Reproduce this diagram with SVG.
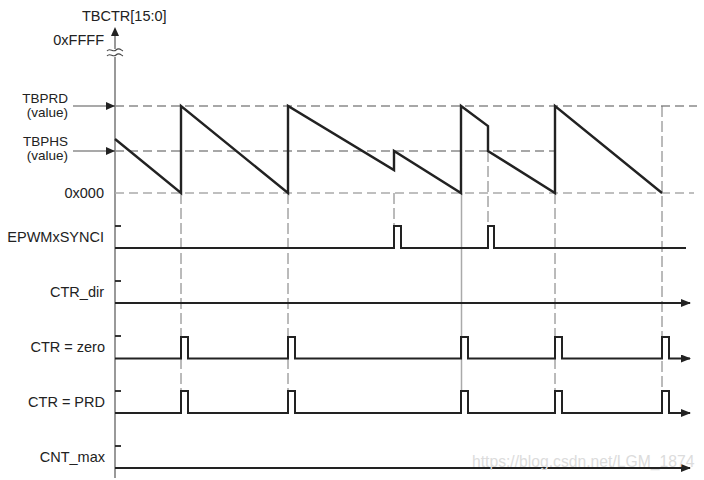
<svg xmlns="http://www.w3.org/2000/svg" width="704" height="480" viewBox="0 0 704 480">
<defs>
<marker id="arr" markerWidth="10" markerHeight="8" refX="9" refY="4" orient="auto" markerUnits="userSpaceOnUse">
<path d="M0,0 L10,4 L0,8 Z" fill="#222"/>
</marker>
<marker id="arrs" markerWidth="9" markerHeight="8" refX="9" refY="4" orient="auto" markerUnits="userSpaceOnUse">
<path d="M0,0 L9,4 L0,8 Z" fill="#222"/>
</marker>
</defs>
<style>
text{font-family:"Liberation Sans",Arial,sans-serif;font-size:14.5px;fill:#222}
.r{text-anchor:end}
.s{font-size:13.5px}
.hd{stroke:#8a8a8a;stroke-width:1.3;stroke-dasharray:9 5;fill:none}
.hz{stroke:#aaa;stroke-width:1.3;stroke-dasharray:9 5;fill:none}
.vd{stroke:#777;stroke-width:1;stroke-dasharray:11 4;fill:none}
.sig{stroke:#222;stroke-width:2;fill:none;stroke-linejoin:miter}
.saw{stroke:#222;stroke-width:2.4;fill:none;stroke-linejoin:miter}
.tick{stroke:#222;stroke-width:1.8}
</style>

<g id="axis">
<line x1="115" y1="34" x2="115" y2="478" stroke="#777" stroke-width="1.5"/>
<path d="M115,27 L111,36 L119,36 Z" fill="#222"/>
<rect x="108" y="49" width="14" height="8" fill="#fff"/>
<path d="M107,51 C110,47 113,53 116,50 C119,47 121,50 123,51 M107,56 C110,52 113,58 116,55 C119,52 121,55 123,56" stroke="#444" stroke-width="1.1" fill="none"/>
<text x="82" y="21">TBCTR[15:0]</text>
<text class="r" x="104" y="45">0xFFFF</text>
<line class="tick" x1="115" y1="226" x2="121" y2="226"/>
<line class="tick" x1="115" y1="281" x2="121" y2="281"/>
<line class="tick" x1="115" y1="336" x2="121" y2="336"/>
<line class="tick" x1="115" y1="391" x2="121" y2="391"/>
<line class="tick" x1="115" y1="446" x2="121" y2="446"/>
</g>

<g id="levels">
<text class="r s" x="68" y="103">TBPRD</text>
<text class="r s" x="68" y="117">(value)</text>
<line x1="73" y1="106" x2="115" y2="106" stroke="#555" stroke-width="1.2" marker-end="url(#arrs)"/>
<line class="hd" x1="115" y1="106" x2="697" y2="106"/>
<text class="r s" x="68" y="146">TBPHS</text>
<text class="r s" x="68" y="160">(value)</text>
<line x1="73" y1="151" x2="115" y2="151" stroke="#555" stroke-width="1.2" marker-end="url(#arrs)"/>
<line class="hd" x1="115" y1="151" x2="555" y2="151"/>
<text class="r" x="104" y="198">0x000</text>
<line class="hz" x1="115" y1="193" x2="694" y2="193"/>
</g>

<g id="connectors">
<line class="vd" x1="181" y1="193" x2="181" y2="391"/>
<line class="vd" x1="288" y1="193" x2="288" y2="391"/>
<line class="vd" x1="394" y1="193" x2="394" y2="226"/>
<line x1="461.5" y1="193" x2="461.5" y2="391" stroke="#aaa" stroke-width="1.5"/>
<line class="vd" x1="488" y1="151" x2="488" y2="226"/>
<line class="vd" x1="555" y1="193" x2="555" y2="391"/>
<line class="vd" x1="662" y1="106" x2="662" y2="391"/>
</g>

<g id="tbctr">
<path class="saw" d="M115,139 L181,193 L181,106 L288,193 L288,106 L394,170 L394,151 L461,193 L461,106 L488,126 L488,151 L555,193 L555,106 L662,193"/>
</g>

<g id="epwmxsynci">
<text class="r" x="104" y="242">EPWMxSYNCI</text>
<path class="sig" d="M115,248 L394,248 L394,226 L401,226 L401,248 L488,248 L488,226 L494,226 L494,248 L686,248"/>
</g>

<g id="ctr_dir">
<text class="r" x="104" y="297">CTR_dir</text>
<line class="sig" x1="115" y1="303" x2="690" y2="303" marker-end="url(#arr)"/>
</g>

<g id="ctr_zero">
<text class="r" x="105" y="352">CTR = zero</text>
<path class="sig" stroke-width="2.4" d="M115,358.5 L181,358.5 L181,337 L188,337 L188,358.5 L288,358.5 L288,337 L295,337 L295,358.5 L461,358.5 L461,337 L468,337 L468,358.5 L555,358.5 L555,337 L562,337 L562,358.5 L662,358.5 L662,337 L669,337 L669,358.5 L690,358.5" marker-end="url(#arr)"/>
</g>

<g id="ctr_prd">
<text class="r" x="105" y="407">CTR = PRD</text>
<path class="sig" d="M115,413 L181,413 L181,391 L188,391 L188,413 L288,413 L288,391 L295,391 L295,413 L461,413 L461,391 L468,391 L468,413 L555,413 L555,391 L562,391 L562,413 L662,413 L662,391 L669,391 L669,413 L690,413" marker-end="url(#arr)"/>
</g>

<g id="cnt_max">
<text class="r" x="105" y="462">CNT_max</text>
<line class="sig" x1="115" y1="468" x2="690" y2="468" marker-end="url(#arr)"/>
</g>

<text x="472" y="467" style="font-size:15.7px;fill:#dcdcdc">https://blog.csdn.net/LGM_1874</text>
</svg>
